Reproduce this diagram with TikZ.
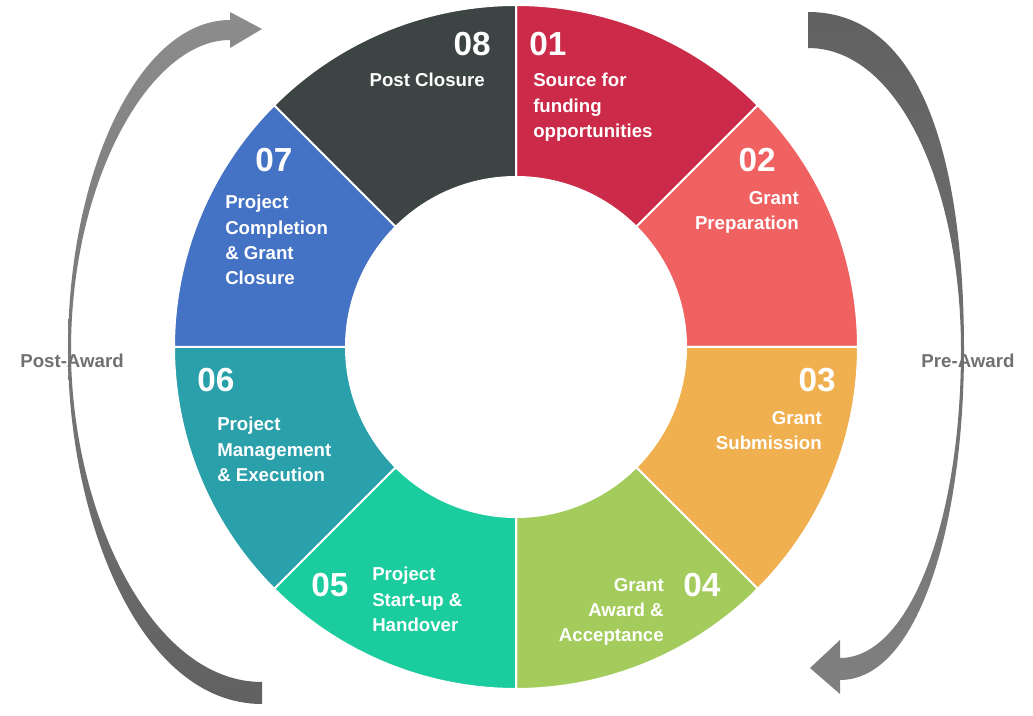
\documentclass[tikz,border=0pt]{standalone}
\usepackage{fontspec}
\setmainfont{Liberation Sans}
\begin{document}
\begin{tikzpicture}[x=0.75pt,y=-0.75pt,
  num/.style={text=white,font=\bfseries\fontsize{25}{25}\selectfont,inner sep=0pt},
  lbl/.style={text=white,font=\bfseries\fontsize{14}{19}\selectfont,inner sep=0pt},
  side/.style={text=sidegray,font=\bfseries\fontsize{14}{16}\selectfont,inner sep=0pt},
  seg/.style={draw=white,line width=1.5pt}]
\definecolor{c1}{HTML}{CB2A48}\definecolor{c2}{HTML}{F06262}
\definecolor{c3}{HTML}{F0B050}\definecolor{c4}{HTML}{A3CC5C}
\definecolor{c5}{HTML}{1ACC9E}\definecolor{c6}{HTML}{2AA0AA}
\definecolor{c7}{HTML}{4472C4}\definecolor{c8}{HTML}{3C4444}
\definecolor{sidegray}{HTML}{707070}
\useasboundingbox (0,0) rectangle (1033,716);
\begin{scope}[shift={(516,347)},yscale=-1]
\foreach \a/\c in {90/c1,45/c2,0/c3,-45/c4,-90/c5,-135/c6,180/c7,135/c8}{
  \pgfmathsetmacro{\b}{\a-45}
  \fill[\c,seg] (\a:170) arc[start angle=\a,end angle=\b,radius=170] -- (\b:342) arc[start angle=\b,end angle=\a,radius=342] -- cycle;
}
\end{scope}
% left arrow
\shade[top color=black!45,bottom color=black!62]
 (262,704) .. controls (140,704) and (68,520) .. (68,350) .. controls (68,170) and (140,20) .. (230,20)
 -- (230,12) -- (262,29) -- (230,48) -- (230,40)
 .. controls (150,40) and (71,180) .. (71,350) .. controls (71,510) and (150,682) .. (262,682) -- cycle;
% right arrow
\shade[top color=black!62,bottom color=black!50]
 (808,12) .. controls (930,12) and (964,180) .. (964,350) .. controls (964,520) and (920,680) .. (840,680)
 -- (840,694) -- (810,668) -- (840,640) -- (840,658)
 .. controls (910,658) and (961,520) .. (961,350) .. controls (961,190) and (900,48) .. (808,48) -- cycle;
\node[side] (post) at (72,361) {Post-Award};
\node[side] (pre) at (968,361) {Pre-Award};
\node[num,anchor=west] (n1) at (529,44) {01};
\node[lbl,anchor=north west,align=left] (t1) at (533,73) {Source for\\funding\\opportunities};
\node[num,anchor=east] (n2) at (776,160) {02};
\node[lbl,anchor=north east,align=right] (t2) at (799,191) {Grant\\Preparation};
\node[num,anchor=east] (n3) at (836,380) {03};
\node[lbl,anchor=north east,align=right] (t3) at (822,411) {Grant\\Submission};
\node[num,anchor=west] (n4) at (683,585) {04};
\node[lbl,anchor=north east,align=right] (t4) at (664,578) {Grant\\Award \&\\Acceptance};
\node[num,anchor=west] (n5) at (311,585) {05};
\node[lbl,anchor=north west,align=left] (t5) at (372,567) {Project\\Start-up \&\\Handover};
\node[num,anchor=west] (n6) at (197,380) {06};
\node[lbl,anchor=north west,align=left] (t6) at (217,417) {Project\\Management\\\& Execution};
\node[num,anchor=west] (n7) at (255,160) {07};
\node[lbl,anchor=north west,align=left] (t7) at (225,195) {Project\\Completion\\\& Grant\\Closure};
\node[num,anchor=east] (n8) at (491,44) {08};
\node[lbl,anchor=north east,align=right] (t8) at (485,73) {Post Closure};
\end{tikzpicture}
\end{document}
